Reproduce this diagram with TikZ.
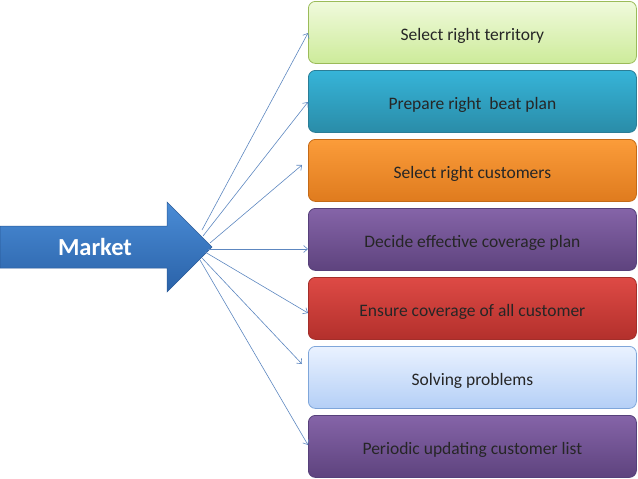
\documentclass[tikz,border=0pt]{standalone}
\usepackage{fontspec}
\setmainfont{Carlito}
\usetikzlibrary{arrows.meta}
\definecolor{gA}{HTML}{F0FADC}\definecolor{gB}{HTML}{CDEB9A}\definecolor{gD}{HTML}{9BBB59}
\definecolor{tA}{HTML}{36B4D8}\definecolor{tB}{HTML}{2A8CA8}\definecolor{tD}{HTML}{2B7D96}
\definecolor{oA}{HTML}{FB9C3A}\definecolor{oB}{HTML}{DF7B1E}\definecolor{oD}{HTML}{C46A18}
\definecolor{pA}{HTML}{8564A8}\definecolor{pB}{HTML}{5E437E}\definecolor{pD}{HTML}{56407A}
\definecolor{rA}{HTML}{DE4A45}\definecolor{rB}{HTML}{B3302C}\definecolor{rD}{HTML}{A32E2A}
\definecolor{lA}{HTML}{EAF2FF}\definecolor{lB}{HTML}{B4CFF6}\definecolor{lD}{HTML}{7FA6DA}
\definecolor{aA}{HTML}{4A8CD6}\definecolor{aB}{HTML}{2A62A8}\definecolor{aD}{HTML}{2A5A98}
\definecolor{cn}{HTML}{5D87C0}
\begin{document}
\begin{tikzpicture}[x=1pt,y=-1pt,
 box/.style n args={3}{draw=#3,top color=#1,bottom color=#2,line width=0.8pt,rounded corners=7pt,minimum width=328pt,minimum height=62pt,anchor=north west,text=black!85,font=\fontsize{17.5}{19}\selectfont,text depth=0pt,text height=16pt},
 con/.style={draw=cn,line width=0.6pt,-{Straight Barb[length=4pt,width=7pt]}}]
\useasboundingbox (0,0) rectangle (638,479);
\shade[top color=aA,bottom color=aB,draw=aD,line width=0.5pt]
 (0,226) -- (167,226) -- (167,202) -- (212,247) -- (167,292) -- (167,268) -- (0,268) -- cycle;
\node[font=\fontsize{24.5}{26}\selectfont\bfseries,text=white] (m) at (95,247) {Market};
\node[box={gA}{gB}{gD}] (b1) at (308,1) {Select right territory};
\node[box={tA}{tB}{tD}] (b2) at (308,70) {Prepare right\ \ beat plan};
\node[box={oA}{oB}{oD}] (b3) at (308,139) {Select right customers};
\node[box={pA}{pB}{pD}] (b4) at (308,208) {Decide effective coverage plan};
\node[box={rA}{rB}{rD}] (b5) at (308,277) {Ensure coverage of all customer};
\node[box={lA}{lB}{lD}] (b6) at (308,346) {Solving problems};
\node[box={pA}{pB}{pD}] (b7) at (308,415) {Periodic updating customer list};
\draw[con] (202,230) -- (b1.west|-0,33);
\draw[con] (203,236) -- (b2.west|-0,102);
\draw[con] (210,243) -- ([xshift=-6pt]b3.west|-0,165);
\draw[con] (208,249) -- (b4.west|-0,249);
\draw[con] (205,252) -- (b5.west|-0,313);
\draw[con] (202,258) -- ([xshift=-6pt]b6.west|-0,364);
\draw[con] (200,260) -- (b7.west|-0,445);
\end{tikzpicture}
\end{document}
